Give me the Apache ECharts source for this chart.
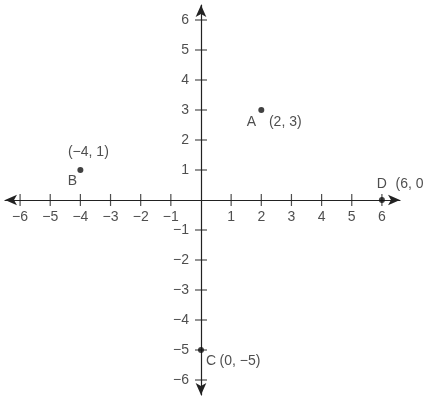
<!DOCTYPE html>
<html><head><meta charset="utf-8">
<script src="https://cdn.jsdelivr.net/npm/echarts@6/dist/echarts.min.js"></script>
<style>html,body{margin:0;padding:0;background:#fff}#c{width:423px;height:400px}</style>
</head><body><div id="c"></div>
<script>
var tickValues = [-6, -5, -4, -3, -2, -1, 1, 2, 3, 4, 5, 6];
var pointNames = ["A", "B", "C", "D"];
var pointX = [2, -4, 0, 6];
var pointY = [3, 1, -5, 0];
var font = "'Liberation Sans Narrow', 'Liberation Sans', Arial, sans-serif";

var chart = echarts.init(document.getElementById("c"), null, {renderer: "canvas"});

function minus(v) { return String(v).replace("-", "\u2212"); }

// name label left/below, coordinate label placement per point
var labelOpts = {
  A: {name: [-10, 12], coord: [24, 12]},
  B: {name: [-8, 11], coord: [8, -18]},
  C: {name: [10, 11], coord: [39, 11]},
  D: {name: [0, -16], coord: [30, -16]}
};

var pointData = [];
pointNames.forEach(function (n, i) {
  pointData.push({value: [pointX[i], pointY[i]], label: {show: true, formatter: n, offset: labelOpts[n].name}});
});
var coordData = [];
pointNames.forEach(function (n, i) {
  coordData.push({value: [pointX[i], pointY[i]],
    label: {show: true, formatter: "(" + minus(pointX[i]) + ", " + minus(pointY[i]) + ")", offset: labelOpts[n].coord}});
});

chart.setOption({
  animation: false,
  grid: {left: 5, right: 23, top: 5, bottom: 5},
  xAxis: {
    type: "value", min: -6.5, max: 6.6,
    axisLine: {onZero: true, symbol: ["arrow", "arrow"], symbolSize: [8, 12], lineStyle: {color: "#222", width: 1.2}},
    axisTick: {show: false}, splitLine: {show: false}, axisLabel: {show: false}
  },
  yAxis: {
    type: "value", min: -6.5, max: 6.5,
    axisLine: {onZero: true, symbol: ["arrow", "arrow"], symbolSize: [8, 12], lineStyle: {color: "#222", width: 1.2}},
    axisTick: {show: false}, splitLine: {show: false}, axisLabel: {show: false}
  },
  series: [
    {
      type: "scatter", symbol: "rect", symbolSize: [1.2, 12], silent: true,
      itemStyle: {color: "#222"},
      data: tickValues.map(function (v) { return [v, 0]; }),
      label: {show: true, position: "bottom", distance: 4, color: "#222", fontSize: 14, fontFamily: font,
        formatter: function (p) { return minus(p.value[0]); }}
    },
    {
      type: "scatter", symbol: "rect", symbolSize: [12, 1.2], silent: true,
      itemStyle: {color: "#222"},
      data: tickValues.map(function (v) { return [0, v]; }),
      label: {show: true, position: "left", distance: 6, color: "#222", fontSize: 14, fontFamily: font,
        formatter: function (p) { return minus(p.value[1]); }}
    },
    {
      type: "scatter", symbol: "circle", symbolSize: 6, silent: true,
      itemStyle: {color: "#111"},
      data: pointData,
      label: {position: "inside", color: "#222", fontSize: 14, fontFamily: font}
    },
    {
      type: "scatter", symbolSize: 0, silent: true,
      data: coordData,
      label: {position: "inside", color: "#222", fontSize: 14, fontFamily: font}
    }
  ]
});
</script>
</body></html>
